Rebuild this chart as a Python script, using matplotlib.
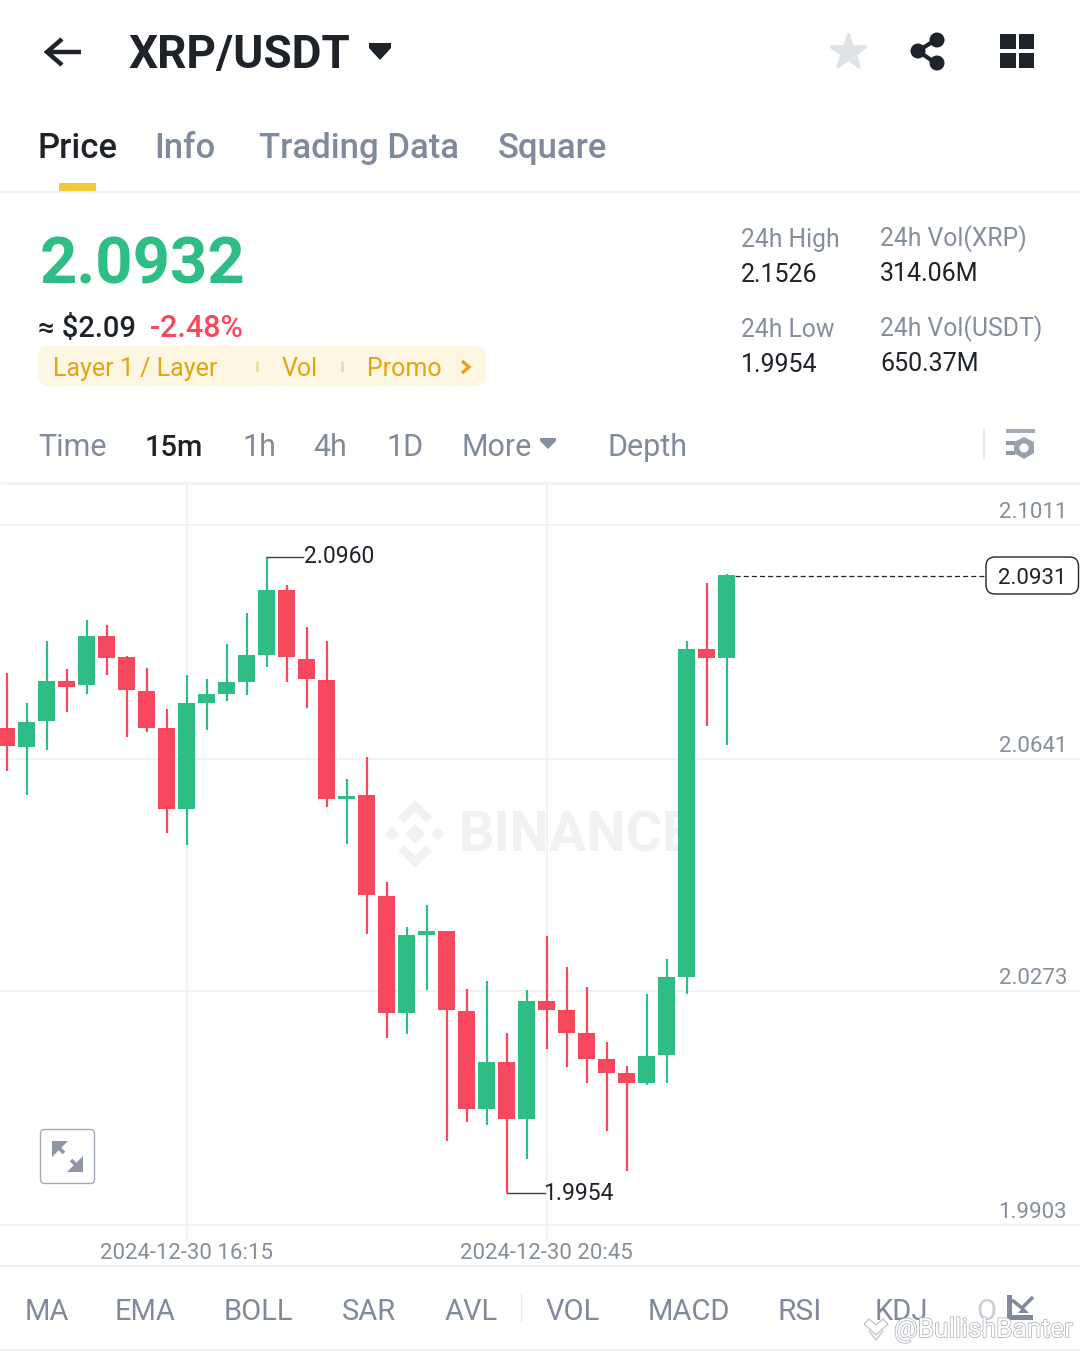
import matplotlib
matplotlib.use("Agg")
from matplotlib import pyplot as plt
from matplotlib.patches import Rectangle, FancyBboxPatch, Polygon, Circle
import matplotlib.patheffects as pe

plt.rcParams['font.family'] = ['Roboto', 'DejaVu Sans']

# candles, 15m each, first one at 14:00
opens = [2.0689, 2.0660, 2.0700, 2.0764, 2.0757, 2.0835, 2.0802, 2.0749, 2.0689, 2.0561,
         2.0729, 2.0744, 2.0763, 2.0806, 2.0908, 2.0799, 2.0766, 2.0577, 2.0583, 2.0424,
         2.0239, 2.0362, 2.0368, 2.0242, 2.0087, 2.0161, 2.0071, 2.0257, 2.0243, 2.0207,
         2.0166, 2.0143, 2.0128, 2.0172, 2.0296, 2.0815, 2.0801]
highs = [2.0776, 2.0729, 2.0827, 2.0783, 2.0861, 2.0852, 2.0804, 2.0785, 2.0719, 2.0774,
         2.0767, 2.0823, 2.0872, 2.0960, 2.0916, 2.0850, 2.0827, 2.0609, 2.0643, 2.0446,
         2.0374, 2.0409, 2.0368, 2.0276, 2.0289, 2.0207, 2.0275, 2.0360, 2.0311, 2.0279,
         2.0193, 2.0154, 2.0269, 2.0324, 2.0827, 2.0919, 2.0933]
lows = [2.0621, 2.0584, 2.0655, 2.0715, 2.0744, 2.0774, 2.0676, 2.0683, 2.0523, 2.0504,
        2.0686, 2.0732, 2.0742, 2.0787, 2.0762, 2.0722, 2.0565, 2.0506, 2.0363, 2.0199,
        2.0205, 2.0275, 2.0036, 2.0066, 2.0062, 1.9954, 2.0008, 2.0181, 2.0153, 2.0128,
        2.0051, 1.9988, 2.0125, 2.0128, 2.0269, 2.0693, 2.0663]
closes = [2.0661, 2.0699, 2.0764, 2.0755, 2.0835, 2.0801, 2.0750, 2.0690, 2.0561, 2.0729,
          2.0743, 2.0762, 2.0805, 2.0908, 2.0802, 2.0767, 2.0577, 2.0582, 2.0425, 2.0239,
          2.0362, 2.0368, 2.0243, 2.0086, 2.0161, 2.0071, 2.0258, 2.0243, 2.0207, 2.0166,
          2.0143, 2.0127, 2.0171, 2.0296, 2.0815, 2.0801, 2.0932]

price_ticks = [2.1011, 2.0641, 2.0273, 1.9903]
time_ticks = [9, 27]
time_labels = ["2024-12-30 16:15", "2024-12-30 20:45"]
last_price = 2.0931

indicators = ["MA", "EMA", "BOLL", "SAR", "AVL", "VOL", "MACD", "RSI", "KDJ"]
indicator_x = [25, 115, 224, 342, 445, 546, 648, 778, 875]
periods = ["Time", "15m", "1h", "4h", "1D", "More", "Depth"]
period_x = [38, 145, 242, 313, 386, 462, 608]
tabs = ["Price", "Info", "Trading Data", "Square"]
tab_x = [38, 154, 259, 498]

GREEN = "#2ebd85"
RED = "#f8485e"
DARK = "#1e2329"
GRAY = "#848e9c"
TABGRAY = "#808a9c"
LINE = "#eceef0"
GOLD = "#e0a60f"

W, H = 1080, 1351
fig = plt.figure(figsize=(W / 100, H / 100), dpi=100, facecolor="white")

# background layer in pixel coordinates for all the app chrome
ui = fig.add_axes([0, 0, 1, 1], zorder=0)
ui.set_xlim(0, W)
ui.set_ylim(H, 0)
ui.axis("off")


def txt(x, y, s, size, color=DARK, weight="normal", ha="left", ax=ui, **kw):
    return ax.text(x, y, s, fontsize=size, color=color, fontweight=weight,
                   ha=ha, va="baseline", **kw)


def line(xs, ys, color=DARK, lw=1.0, ax=ui, **kw):
    ax.plot(xs, ys, color=color, lw=lw, solid_capstyle="butt", **kw)


# header
line([81, 47], [52, 52], lw=3.2)
line([62, 47, 62], [39, 52, 65], lw=3.2, solid_joinstyle="miter")
txt(128, 68, "XRP/USDT", 33, weight="bold")
ui.add_patch(Polygon([(369, 43), (391, 43), (391, 48), (380, 60), (369, 48)], fc=DARK, ec="none"))
ui.plot([847.5], [52], marker="*", ms=27, color="#dfe2e6", mec="#dfe2e6", mew=2)
line([918, 937], [51, 39], lw=3)
line([918, 937], [51, 64], lw=3)
for cx, cy, r in [(918, 51, 7.5), (937, 40, 7.5), (937, 63, 7.5)]:
    ui.add_patch(Circle((cx, cy), r, fc=DARK, ec="none"))
for x0, x1 in [(1000, 1016), (1019, 1034)]:
    for y0, y1 in [(34, 49), (53, 68)]:
        ui.add_patch(Rectangle((x0, y0), x1 - x0, y1 - y0, fc=DARK, ec="none"))

# tabs
for i, (s, x) in enumerate(zip(tabs, tab_x)):
    txt(x, 158, s, 25, color=DARK if i == 0 else TABGRAY, weight="medium")
ui.add_patch(Rectangle((59, 183), 37, 8, fc="#f0c83c", ec="none"))
line([0, W], [191.5, 191.5], color=LINE, lw=1.2)

# price block
txt(40, 283, "2.0932", 47, color=GREEN, weight="bold")
txt(38, 337, "≈ $2.09", 21, weight="medium")
txt(150, 337, "-2.48%", 22, color=RED, weight="medium")
ui.add_patch(FancyBboxPatch((38, 346), 448, 40, boxstyle="round,pad=0,rounding_size=10",
                            fc="#fdf6e3", ec="none"))
txt(53, 376, "Layer 1 / Layer", 18, color=GOLD)
txt(282, 376, "Vol", 18, color=GOLD)
txt(367, 376, "Promo", 18, color=GOLD)
for x in [257, 342]:
    ui.add_patch(Rectangle((x - 1.5, 362), 3, 10, fc="#efdca8", ec="none"))
line([462, 469, 462], [361, 367, 373], color=GOLD, lw=2.4, solid_joinstyle="miter")

# 24h stats
txt(741, 247, "24h High", 17.8, color=GRAY)
txt(741, 282, "2.1526", 18)
txt(741, 337, "24h Low", 17.8, color=GRAY)
txt(741, 372, "1.9954", 18)
txt(880, 246, "24h Vol(XRP)", 17.8, color=GRAY)
txt(880, 281, "314.06M", 18)
txt(880, 336, "24h Vol(USDT)", 17.8, color=GRAY)
txt(880, 371, "650.37M", 18)

# interval row
for s, x in zip(periods, period_x):
    if s == "15m":
        txt(x, 456, s, 21, weight="medium")
    else:
        txt(x, 456, s, 22, color=TABGRAY)
ui.add_patch(Polygon([(540, 438), (556, 438), (556, 441), (548, 449), (540, 441)], fc=GRAY, ec="none"))
line([983.5, 983.5], [429, 459], color="#e6e8ea", lw=1.6)
ui.add_patch(Rectangle((1006, 429), 29, 4, fc="#a4abb8", ec="none"))
for y in [441, 451]:
    ui.add_patch(Rectangle((1006, y), 9, 4, fc="#9098a6", ec="none"))
ui.add_patch(Polygon([(1024, 437), (1034, 442), (1034, 453), (1024, 459), (1014, 453), (1014, 442)],
                     fc="#9aa2b0", ec="none"))
ui.add_patch(Circle((1024, 448), 4.5, fc="white", ec="none"))
line([0, W], [483, 483], color="#f2f3f4", lw=2.2)

# watermark sits behind the candles
WM = "#f0f1f2"
ui.add_patch(Polygon([(415, 824), (425, 834), (415, 844), (405, 834)], fc=WM, ec="none"))
ui.add_patch(Polygon([(392, 827), (399, 834), (392, 841), (385, 834)], fc=WM, ec="none"))
ui.add_patch(Polygon([(438, 827), (445, 834), (438, 841), (431, 834)], fc=WM, ec="none"))
line([401, 415, 429], [820, 806, 820], color=WM, lw=6, solid_joinstyle="miter")
line([401, 415, 429], [848, 862, 848], color=WM, lw=6, solid_joinstyle="miter")
wm = txt(458, 852, "BINANCE", 40, color=WM, weight="bold")
wm.set_clip_path(Rectangle((0, 0), 680, H, transform=ui.transData))

# candle chart, price scale fixed by the ticks on the right
chart_top, chart_bottom = 483, 1240
grid_top, grid_bottom = 525, 1225
per_px = (price_ticks[0] - price_ticks[-1]) / (grid_bottom - grid_top)
ax = fig.add_axes([0, 1 - chart_bottom / H, 1, (chart_bottom - chart_top) / H], zorder=1)
ax.patch.set_visible(False)
ax.set_xlim(-6.67 / 20, (W - 6.67) / 20)
ax.set_ylim(price_ticks[0] - (chart_bottom - grid_top) * per_px,
            price_ticks[0] + (grid_top - chart_top) * per_px)
for s in ax.spines.values():
    s.set_visible(False)
ax.set_yticks(price_ticks)
ax.set_yticklabels([])
ax.set_xticks(time_ticks)
ax.set_xticklabels(time_labels, fontsize=16, color=GRAY)
ax.tick_params(length=0, pad=2.5, axis="both")
ax.grid(True, color="#eff0f2", lw=1.1)
ax.set_axisbelow(True)

xs = list(range(len(opens)))
colors = [GREEN if c >= o else RED for o, c in zip(opens, closes)]
ax.vlines(xs, lows, highs, colors=colors, lw=1.6, zorder=3)
ax.bar(xs, [abs(c - o) for o, c in zip(opens, closes)], bottom=[min(o, c) for o, c in zip(opens, closes)],
       width=0.875, color=colors, edgecolor="none", zorder=4)

# extreme labels
i_hi = highs.index(max(highs))
i_lo = lows.index(min(lows))
ax.plot([i_hi, i_hi + 1.8], [highs[i_hi], highs[i_hi]], color="#3a4048", lw=1, zorder=3)
ax.text(i_hi + 1.85, highs[i_hi] + per_px, "%.4f" % highs[i_hi], fontsize=16.5, color=DARK, va="center", ha="left")
ax.plot([i_lo, i_lo + 1.9], [lows[i_lo], lows[i_lo]], color="#3a4048", lw=1, zorder=3)
ax.text(i_lo + 1.8, lows[i_lo] - per_px, "%.4f" % lows[i_lo], fontsize=16.5, color=DARK, va="center", ha="left")

# last price line and pill
ax.plot([len(opens) - 1, (985 - 6.67) / 20], [last_price, last_price], color=DARK, lw=0.9, dashes=(4, 2.5), zorder=2)
for p in price_ticks:
    ax.annotate("%.4f" % p, (1, p), xycoords=("axes fraction", "data"), xytext=(-13, 2),
                textcoords="offset pixels", fontsize=16, color=GRAY, ha="right", va="bottom")

# top layer
top = fig.add_axes([0, 0, 1, 1], zorder=2)
top.set_xlim(0, W)
top.set_ylim(H, 0)
top.axis("off")
top.patch.set_visible(False)
top.add_patch(FancyBboxPatch((986, 557), 92.5, 37, boxstyle="round,pad=0,rounding_size=9",
                             fc="white", ec=DARK, lw=1))
txt(1032.5, 584, "%.4f" % last_price, 16, ha="center", ax=top)

# expand button
top.add_patch(FancyBboxPatch((40.5, 1129.5), 54, 54, boxstyle="round,pad=0,rounding_size=4",
                             fc="white", ec="#a2a9b6", lw=1))
top.add_patch(Polygon([(52, 1141), (68, 1141), (52, 1157)], fc="#8f97a6", ec="none"))
top.add_patch(Polygon([(83, 1172), (67, 1172), (83, 1156)], fc="#8f97a6", ec="none"))
line([58, 64], [1147, 1153], color="#8f97a6", lw=2.6, ax=top)
line([71, 77], [1160, 1166], color="#8f97a6", lw=2.6, ax=top)

# bottom indicator row
line([0, W], [1265.5, 1265.5], color=LINE, lw=1.2, ax=top)
line([0, W], [1349.5, 1349.5], color=LINE, lw=1.2, ax=top)
for s, x in zip(indicators, indicator_x):
    txt(x, 1320, s, 21.5 if s == "RSI" else 21, color=TABGRAY, ax=top)
txt(976, 1320, "O", 21, color="#c9cdd4", ax=top)
line([521, 521], [1293, 1322], color="#e6e8ea", lw=1, ax=top)
top.add_patch(Polygon([(1007, 1295), (1012, 1295), (1012, 1315), (1033, 1315), (1033, 1320), (1007, 1320)],
                      fc=TABGRAY, ec="none"))
line([1012, 1022, 1033], [1300, 1308, 1297], color=TABGRAY, lw=2.6, ax=top)
top.add_patch(Polygon([(1018, 1313), (1023, 1307), (1029, 1313)], fc=TABGRAY, ec="none"))

# repost credit
for xs_, ys_ in [([864, 876, 888], [1324, 1335, 1324]), ([869, 876, 883], [1331, 1340, 1331]),
                 ([864, 869, 876, 883, 888], [1324, 1319, 1325, 1319, 1324])]:
    line(xs_, ys_, color="#c4c8ce", lw=1, ax=top)
credit = txt(894, 1337, "@BullishBanter", 19, color="white", ax=top)
credit.set_path_effects([pe.withStroke(linewidth=1.2, foreground="#b4b9c0")])

fig.savefig("out.png", dpi=100, facecolor="white")
